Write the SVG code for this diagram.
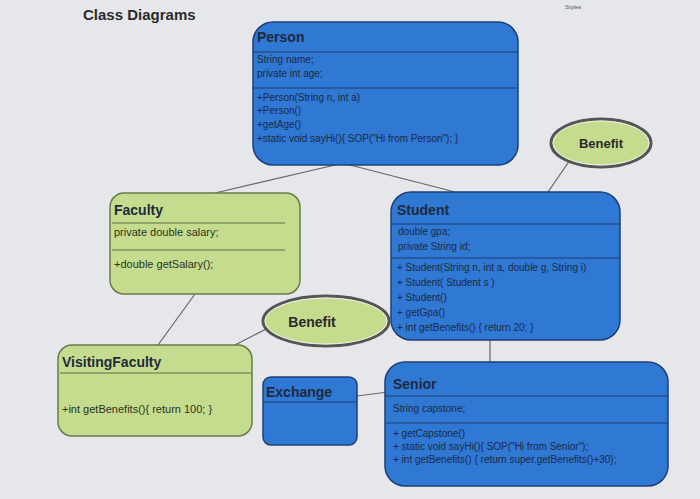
<svg xmlns="http://www.w3.org/2000/svg" width="700" height="499" viewBox="0 0 700 499">
<style>
text{font-family:"Liberation Sans","DejaVu Sans",sans-serif;}
.b{fill:#2f78d4;stroke:#1e3f73;stroke-width:1.5}
.g{fill:#c5dc8f;stroke:#6b7a4a;stroke-width:1.5}
.h{font-weight:bold;font-size:14px;fill:#1e2a3e}
.t{font-size:10px;fill:#1c2a44}
.tg{font-size:11px;fill:#2a3320}
.sep{stroke:#1e3f73;stroke-width:1.2}
.sepg{stroke:#5f6f45;stroke-width:1}
.c{stroke:#666;stroke-width:1.2;fill:none}
.e{fill:#c5dc8f;stroke:#555;stroke-width:3}
.e2{fill:none;stroke:#eee;stroke-width:1}
</style>
<rect width="700" height="499" fill="#e6e7ea"/>
<text x="83" y="20" font-weight="bold" font-size="15" fill="#2a2a2a">Class Diagrams</text>
<text x="565" y="9" font-size="6" fill="#555">Styles</text>
<g id="connectors">
<line class="c" x1="335" y1="165" x2="215" y2="193"/>
<line class="c" x1="350" y1="165" x2="455" y2="192"/>
<line class="c" x1="570" y1="160" x2="548" y2="192"/>
<line class="c" x1="195" y1="294" x2="158" y2="345"/>
<line class="c" x1="268" y1="328" x2="235" y2="345"/>
<line class="c" x1="357" y1="396" x2="388" y2="392"/>
<line class="c" x1="490" y1="340" x2="490" y2="363"/>
</g>
<g id="person">
<rect class="b" x="253" y="22" width="265" height="143" rx="20"/>
<line class="sep" x1="253" y1="52" x2="518" y2="52"/>
<line class="sep" x1="253" y1="88" x2="518" y2="88"/>
<text class="h" x="257" y="42">Person</text>
<text class="t" x="257" y="63">String name;</text>
<text class="t" x="257" y="77">private int age;</text>
<text class="t" x="257" y="101">+Person(String  n, int a)</text>
<text class="t" x="257" y="114">+Person()</text>
<text class="t" x="257" y="128">+getAge()</text>
<text class="t" x="257" y="142">+static void sayHi(){ SOP("Hi from Person"); }</text>
</g>
<g id="benefit1">
<ellipse class="e" cx="601" cy="143" rx="50" ry="24"/>
<ellipse class="e2" cx="601" cy="143" rx="48" ry="22"/>
<text x="601" y="148" text-anchor="middle" font-weight="bold" font-size="13" fill="#2a2a2a">Benefit</text>
</g>
<g id="faculty">
<rect class="g" x="110" y="193" width="190" height="101" rx="14"/>
<line class="sepg" x1="112" y1="223" x2="285" y2="223"/>
<line class="sepg" x1="112" y1="250" x2="285" y2="250"/>
<text class="h" x="114" y="215">Faculty</text>
<text class="tg" x="114" y="236">private double salary;</text>
<text class="tg" x="114" y="268">+double getSalary();</text>
</g>
<g id="student">
<rect class="b" x="391" y="192" width="229" height="148" rx="20"/>
<line class="sep" x1="391" y1="224" x2="620" y2="224"/>
<line class="sep" x1="391" y1="258" x2="620" y2="258"/>
<text class="h" x="397" y="215">Student</text>
<text class="t" x="398" y="235">double gpa;</text>
<text class="t" x="398" y="250">private String id;</text>
<text class="t" x="397" y="271" font-size="9">+ Student(String n, int a, double g, String i)</text>
<text class="t" x="397" y="286">+ Student( Student s )</text>
<text class="t" x="397" y="301">+ Student()</text>
<text class="t" x="397" y="316">+ getGpa()</text>
<text class="t" x="397" y="331">+ int getBenefits() { return 20; }</text>
</g>
<g id="benefit2">
<ellipse class="e" cx="326" cy="321" rx="63" ry="25"/>
<ellipse class="e2" cx="326" cy="321" rx="61" ry="23"/>
<text x="312" y="327" text-anchor="middle" font-weight="bold" font-size="14" fill="#2a2a2a">Benefit</text>
</g>
<g id="visitingfaculty">
<rect class="g" x="58" y="345" width="194" height="91" rx="14"/>
<line class="sepg" x1="60" y1="373" x2="252" y2="373"/>
<text class="h" x="62" y="367">VisitingFaculty</text>
<text class="tg" x="62" y="413">+int getBenefits(){ return 100; }</text>
</g>
<g id="exchange">
<rect class="b" x="263" y="377" width="94" height="68" rx="8"/>
<line class="sep" x1="263" y1="402" x2="357" y2="402"/>
<text class="h" x="266" y="397">Exchange</text>
</g>
<g id="senior">
<rect class="b" x="385" y="362" width="283" height="124" rx="20"/>
<line class="sep" x1="385" y1="396" x2="668" y2="396"/>
<line class="sep" x1="385" y1="423" x2="668" y2="423"/>
<text class="h" x="393" y="389">Senior</text>
<text class="t" x="393" y="412">String capstone;</text>
<text class="t" x="393" y="437">+ getCapstone()</text>
<text class="t" x="393" y="450">+ static void sayHi(){ SOP("Hi from Senior");</text>
<text class="t" x="393" y="463" font-size="9.5">+ int getBenefits() { return super.getBenefits()+30};</text>
</g>
</svg>
